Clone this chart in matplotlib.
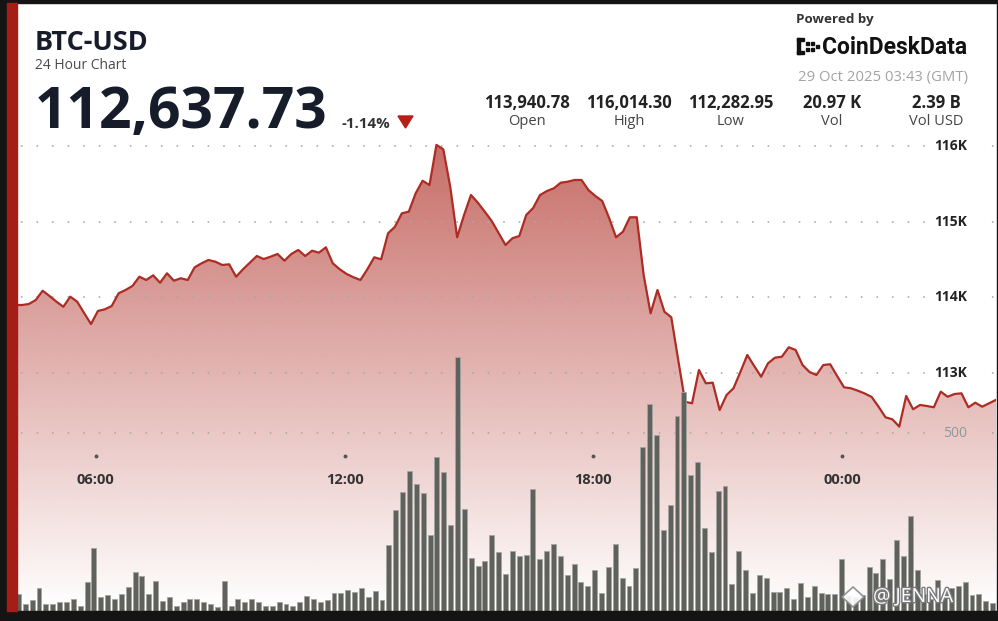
import matplotlib.pyplot as plt
import numpy as np
from matplotlib import patheffects
from matplotlib.patches import Polygon, Rectangle
from matplotlib.transforms import blended_transform_factory

plt.rcParams["font.family"] = ["Open Sans", "DejaVu Sans"]
plt.rcParams["lines.scale_dashes"] = False

W, H = 998, 621

# 10-minute closes, 04:03 -> 03:43 (GMT)
price = [
    113894, 113894, 113907, 113960, 114083, 114013, 113938, 113871, 114004, 113938,
    113788, 113642, 113815, 113837, 113881, 114049, 114093, 114146, 114269, 114225,
    114287, 114189, 114314, 114216, 114248, 114225, 114393, 114446, 114490, 114468,
    114424, 114433, 114269, 114367, 114454, 114543, 114503, 114534, 114570, 114481,
    114570, 114623, 114543, 114613, 114587, 114658, 114446, 114367, 114305, 114261,
    114225, 114367, 114526, 114499, 114844, 114931, 115109, 115130, 115374, 115540,
    115483, 116014.30, 115956, 115461, 114791, 115086, 115351, 115249, 115130, 115007,
    114848, 114689, 114778, 114808, 115086, 115179, 115351, 115404, 115440, 115514,
    115527, 115550, 115550, 115417, 115338, 115272, 115046, 114791, 114865, 115056,
    115056, 114291, 113784, 114093, 113805, 113731, 113166, 112613, 112592, 113033,
    112857, 112865, 112503, 112702, 112791, 113007, 113232, 113086, 112944, 113122,
    113196, 113209, 113334, 113298, 113099, 113007, 112967, 113099, 113109, 112954,
    112804, 112791, 112759, 112722, 112676, 112547, 112407, 112380, 112282.95, 112689,
    112513, 112570, 112556, 112539, 112746, 112679, 112715, 112724, 112539, 112600,
    112547, 112592, 112637.73,
]
volume = [
    47, 19, 30, 66, 21, 21, 24, 24, 35, 15,
    83, 176, 39, 44, 34, 47, 68, 110, 98, 49,
    84, 28, 38, 14, 25, 33, 33, 24, 21, 11,
    84, 15, 33, 25, 33, 24, 15, 15, 25, 21,
    14, 25, 43, 33, 25, 30, 51, 52, 60, 53,
    65, 39, 56, 30, 186, 285, 335, 393, 356, 333,
    213, 432, 391, 241, 715, 288, 150, 127, 141, 213,
    166, 105, 169, 154, 157, 342, 147, 169, 188, 154,
    100, 131, 82, 70, 115, 51, 124, 188, 94, 70,
    122, 462, 582, 494, 227, 299, 548, 616, 382, 419,
    234, 166, 338, 352, 77, 169, 115, 51, 100, 93,
    53, 53, 65, 33, 80, 39, 70, 51, 49, 49,
    147, 42, 40, 45, 124, 107, 145, 91, 201, 155,
    266, 115, 49, 33, 88, 49, 66, 70, 82, 45,
    49, 28, 22,
]
start_hour = 4.05
tick_hours = [6, 12, 18, 24]
tick_labels = ["06:00", "12:00", "18:00", "00:00"]
price_ticks = [113000, 114000, 115000, 116000]
price_tick_labels = ["113K", "114K", "115K", "116K"]
vol_tick = 500
stat_values = ["113,940.78", "116,014.30", "112,282.95", "20.97 K", "2.39 B"]
stat_labels = ["Open", "High", "Low", "Vol", "Vol USD"]
last_price = "112,637.73"
change_pct = "-1.14%"


def fx(x):
    return x / W


def fy(y):
    return 1 - y / H


n = len(price)
times = start_hour + np.arange(n) / 6
span = (n - 1) / 6
x0, x1 = start_hour, start_hour + span
bar_x = x0 + (np.arange(n) + 0.5) * span / n
bar_w = 0.72 * span / n

fig = plt.figure(figsize=(W / 100, H / 100), dpi=100)
fig.patch.set_facecolor("white")

# plot region: px x 15..996, y 135..611
rect = [fx(15), fy(611), (996 - 15) / W, (611 - 135) / H]
ax = fig.add_axes(rect)
px_per_usd = 75.5 / 1000
p_lo = 116000 - (611 - 146) / px_per_usd
p_hi = 116000 + (146 - 135) / px_per_usd

poly = ax.fill_between(times, price, p_lo, color="none", lw=0)
g = np.linspace(0, 1, 256)[:, None]
rgba = np.zeros((256, 1, 4))
rgba[..., 0] = 180 / 255
rgba[..., 1] = 60 / 255
rgba[..., 2] = 52 / 255
rgba[..., 3] = 0.76 * g
im = ax.imshow(rgba, extent=[x0, x1, p_lo, p_hi], origin="lower", aspect="auto",
               interpolation="bilinear", zorder=1)
im.set_clip_path(poly.get_paths()[0], ax.transData)

grid_kw = dict(color="#a8a8a8", lw=1.3, linestyle=(6.4, (0.1, 11.1)), dash_capstyle="round", zorder=2)
lab_tr = blended_transform_factory(ax.transAxes, ax.transData)
for p, lab in zip(price_ticks, price_tick_labels):
    ax.axhline(p, xmin=0, xmax=0.933, **grid_kw)
    ax.axhline(p, xmin=0.99, xmax=1, **grid_kw)
    ax.text(0.9705, p, lab, transform=lab_tr, ha="right", va="center",
            fontsize=10, fontweight="bold", color="#222222", zorder=5)

ax.plot(times, price, color="#ad2c24", lw=1.6, solid_joinstyle="round", zorder=3)
ax.set_xlim(x0, x1)
ax.set_ylim(p_lo, p_hi)
ax.set_axis_off()

ax2 = ax.twinx()
vol_per_px = 500 / (610.7 - 433)
ax2.set_ylim(0, (611 - 135) * vol_per_px)
ax2.axhline(vol_tick, xmin=0, xmax=0.933, **grid_kw)
ax2.axhline(vol_tick, xmin=0.99, xmax=1, **grid_kw)
ax2.text(0.9705, vol_tick, str(vol_tick), transform=blended_transform_factory(ax2.transAxes, ax2.transData),
         ha="right", va="center", fontsize=10, color="#8b9a98")
ax2.bar(bar_x, volume, width=bar_w, color="#5f625c", edgecolor="#a4a5a1", linewidth=0.6, zorder=3)

tick_tr = blended_transform_factory(ax2.transData, ax2.transAxes)
for h, lab in zip(tick_hours, tick_labels):
    ax2.plot([h], [(611 - 456) / 476], "o", ms=1.8, color="#555555", transform=tick_tr)
    ax2.text(h, (611 - 479.5) / 476, lab, transform=tick_tr, ha="center", va="center",
             fontsize=10.5, fontweight="bold", color="#333333")
ax2.set_xlim(x0, x1)
ax2.set_axis_off()

# header
fig.text(fx(35), fy(50.5), "BTC-USD", fontsize=19.5, fontweight="bold", color="#161c2a", va="baseline")
fig.text(fx(35), fy(69), "24 Hour Chart", fontsize=10, color="#4a4a4a", va="baseline")
fig.text(fx(35), fy(128), last_price, fontsize=41, fontweight="bold", color="#161c2a", va="baseline")
fig.text(fx(341), fy(128), change_pct, fontsize=10.8, fontweight="bold", color="#333333", va="baseline")
fig.add_artist(Polygon([(fx(398), fy(116)), (fx(413), fy(116)), (fx(405.5), fy(128))],
                       closed=True, transform=fig.transFigure, color="#b32118"))

stat_cx = [527, 629, 731, 832, 936]
for cx, v, lab in zip(stat_cx, stat_values, stat_labels):
    fig.text(fx(cx), fy(107.5), v, fontsize=12, fontweight="bold", color="#222222", ha="center", va="baseline")
    fig.text(fx(cx), fy(125), lab, fontsize=10.5, color="#444444", ha="center", va="baseline")

fig.text(fx(796), fy(23.5), "Powered by", fontsize=9.6, fontweight="bold", color="#333333", va="baseline")
fig.text(fx(822), fy(54.5), "CoinDeskData", fontsize=16.5, fontweight="bold", color="#111111",
         va="baseline", family=["Roboto", "DejaVu Sans"])
for (a, b, c, d) in [(797, 38, 3, 16), (797, 38, 7, 3), (797, 51, 7, 3)]:
    fig.add_artist(Rectangle((fx(a), fy(b + d)), c / W, d / H, transform=fig.transFigure, color="#111111"))
for (a, b) in [(806, 42), (811, 42), (806, 48), (811, 48), (816, 45)]:
    fig.add_artist(Rectangle((fx(a), fy(b + 2.5)), 2.5 / W, 2.5 / H, transform=fig.transFigure, color="#111111"))
fig.text(fx(968), fy(81), "29 Oct 2025 03:43 (GMT)", fontsize=10.7, color="#a3a3a3", ha="right", va="baseline")

# watermark
fig.add_artist(Polygon([(fx(853), fy(587)), (fx(864), fy(597)), (fx(853), fy(607)), (fx(842), fy(597))],
                       closed=True, transform=fig.transFigure, facecolor="white", edgecolor="#8a8a8a", lw=1.2,
                       alpha=0.9, zorder=9))
fig.text(fx(873), fy(597), "@ JENNA", fontsize=14, color="white", va="center", zorder=9,
         path_effects=[patheffects.withStroke(linewidth=2, foreground="#7a7a7a")])

# frame
dark = "#141414"
fig.add_artist(Rectangle((0, 0), fx(7), 1, transform=fig.transFigure, color=dark, zorder=10))
fig.add_artist(Rectangle((0, fy(3)), 1, 3 / H, transform=fig.transFigure, color=dark, zorder=10))
fig.add_artist(Rectangle((0, 0), 1, 10 / H, transform=fig.transFigure, color=dark, zorder=10))
fig.add_artist(Rectangle((fx(996.5), 0), 1.5 / W, 1, transform=fig.transFigure, color=dark, zorder=10))
fig.add_artist(Rectangle((fx(7), fy(611)), 10 / W, 608 / H, transform=fig.transFigure, color="#a51d15", zorder=11))

fig.savefig("out.png", dpi=100)
plt.close(fig)
